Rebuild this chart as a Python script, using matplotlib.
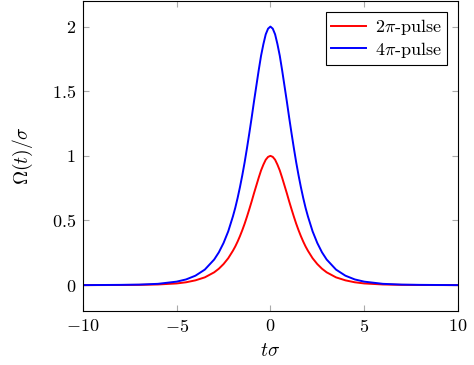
import matplotlib
matplotlib.use("Agg")
import matplotlib.pyplot as plt

plt.rcParams['font.family'] = 'serif'
plt.rcParams['font.serif'] = ['cmr10']
plt.rcParams['mathtext.fontset'] = 'cm'
plt.rcParams['axes.formatter.use_mathtext'] = True

# values (left half, curves are symmetric about 0)
half_t = [-10, -8, -7, -6, -5, -4.5, -4, -3.5, -3, -2.75, -2.5, -2.25, -2,
          -1.875, -1.75, -1.625, -1.5, -1.375, -1.25, -1.125, -1, -0.875,
          -0.75, -0.625, -0.5, -0.375, -0.25, -0.125, 0]
half_2pi = [0.000, 0.001, 0.002, 0.005, 0.013, 0.022, 0.037, 0.060, 0.099,
            0.127, 0.163, 0.208, 0.266, 0.299, 0.337, 0.379, 0.425, 0.475,
            0.530, 0.588, 0.648, 0.711, 0.771, 0.831, 0.887, 0.932, 0.970,
            0.992, 1.000]
half_4pi = [0.000, 0.002, 0.004, 0.010, 0.027, 0.044, 0.073, 0.120, 0.198,
            0.254, 0.326, 0.416, 0.532, 0.598, 0.674, 0.758, 0.850, 0.950,
            1.060, 1.176, 1.296, 1.422, 1.542, 1.662, 1.774, 1.864, 1.940,
            1.984, 2.000]

t_sigma = half_t + [-v for v in half_t[-2::-1]]
pulse_2pi = half_2pi + half_2pi[-2::-1]
pulse_4pi = half_4pi + half_4pi[-2::-1]

fig = plt.figure(figsize=(4.74, 3.65), dpi=100)
ax = fig.add_axes([0.175, 0.148, 0.791, 0.85])

ax.plot(t_sigma, pulse_2pi, color='red', lw=1.4, label=r'$2\pi$-pulse')
ax.plot(t_sigma, pulse_4pi, color='blue', lw=1.4, label=r'$4\pi$-pulse')

ax.set_xlim(-10, 10)
ax.set_ylim(-0.2, 2.2)
ax.set_xticks([-10, -5, 0, 5, 10])
ax.set_yticks([0, 0.5, 1, 1.5, 2])
ax.set_yticklabels(['$0$', '$0.5$', '$1$', '$1.5$', '$2$'])
ax.set_xticklabels([r'$-10$', r'$-5$', '$0$', '$5$', '$10$'])
ax.tick_params(direction='in', length=4, color='#aaaaaa', labelsize=13,
               top=True, right=True, pad=5)
for s in ax.spines.values():
    s.set_linewidth(0.8)

ax.set_xlabel(r'$t\sigma$', fontsize=14, labelpad=5)
ax.set_ylabel(r'$\Omega(t)/\sigma$', fontsize=14, labelpad=12)

leg = ax.legend(loc='upper right', fontsize=13, fancybox=False, framealpha=1,
                edgecolor='black', borderaxespad=0.6, handlelength=1.9,
                labelspacing=0.15, borderpad=0.3, handletextpad=0.5)
leg.get_frame().set_linewidth(0.8)

fig.savefig('out.png', dpi=100)
